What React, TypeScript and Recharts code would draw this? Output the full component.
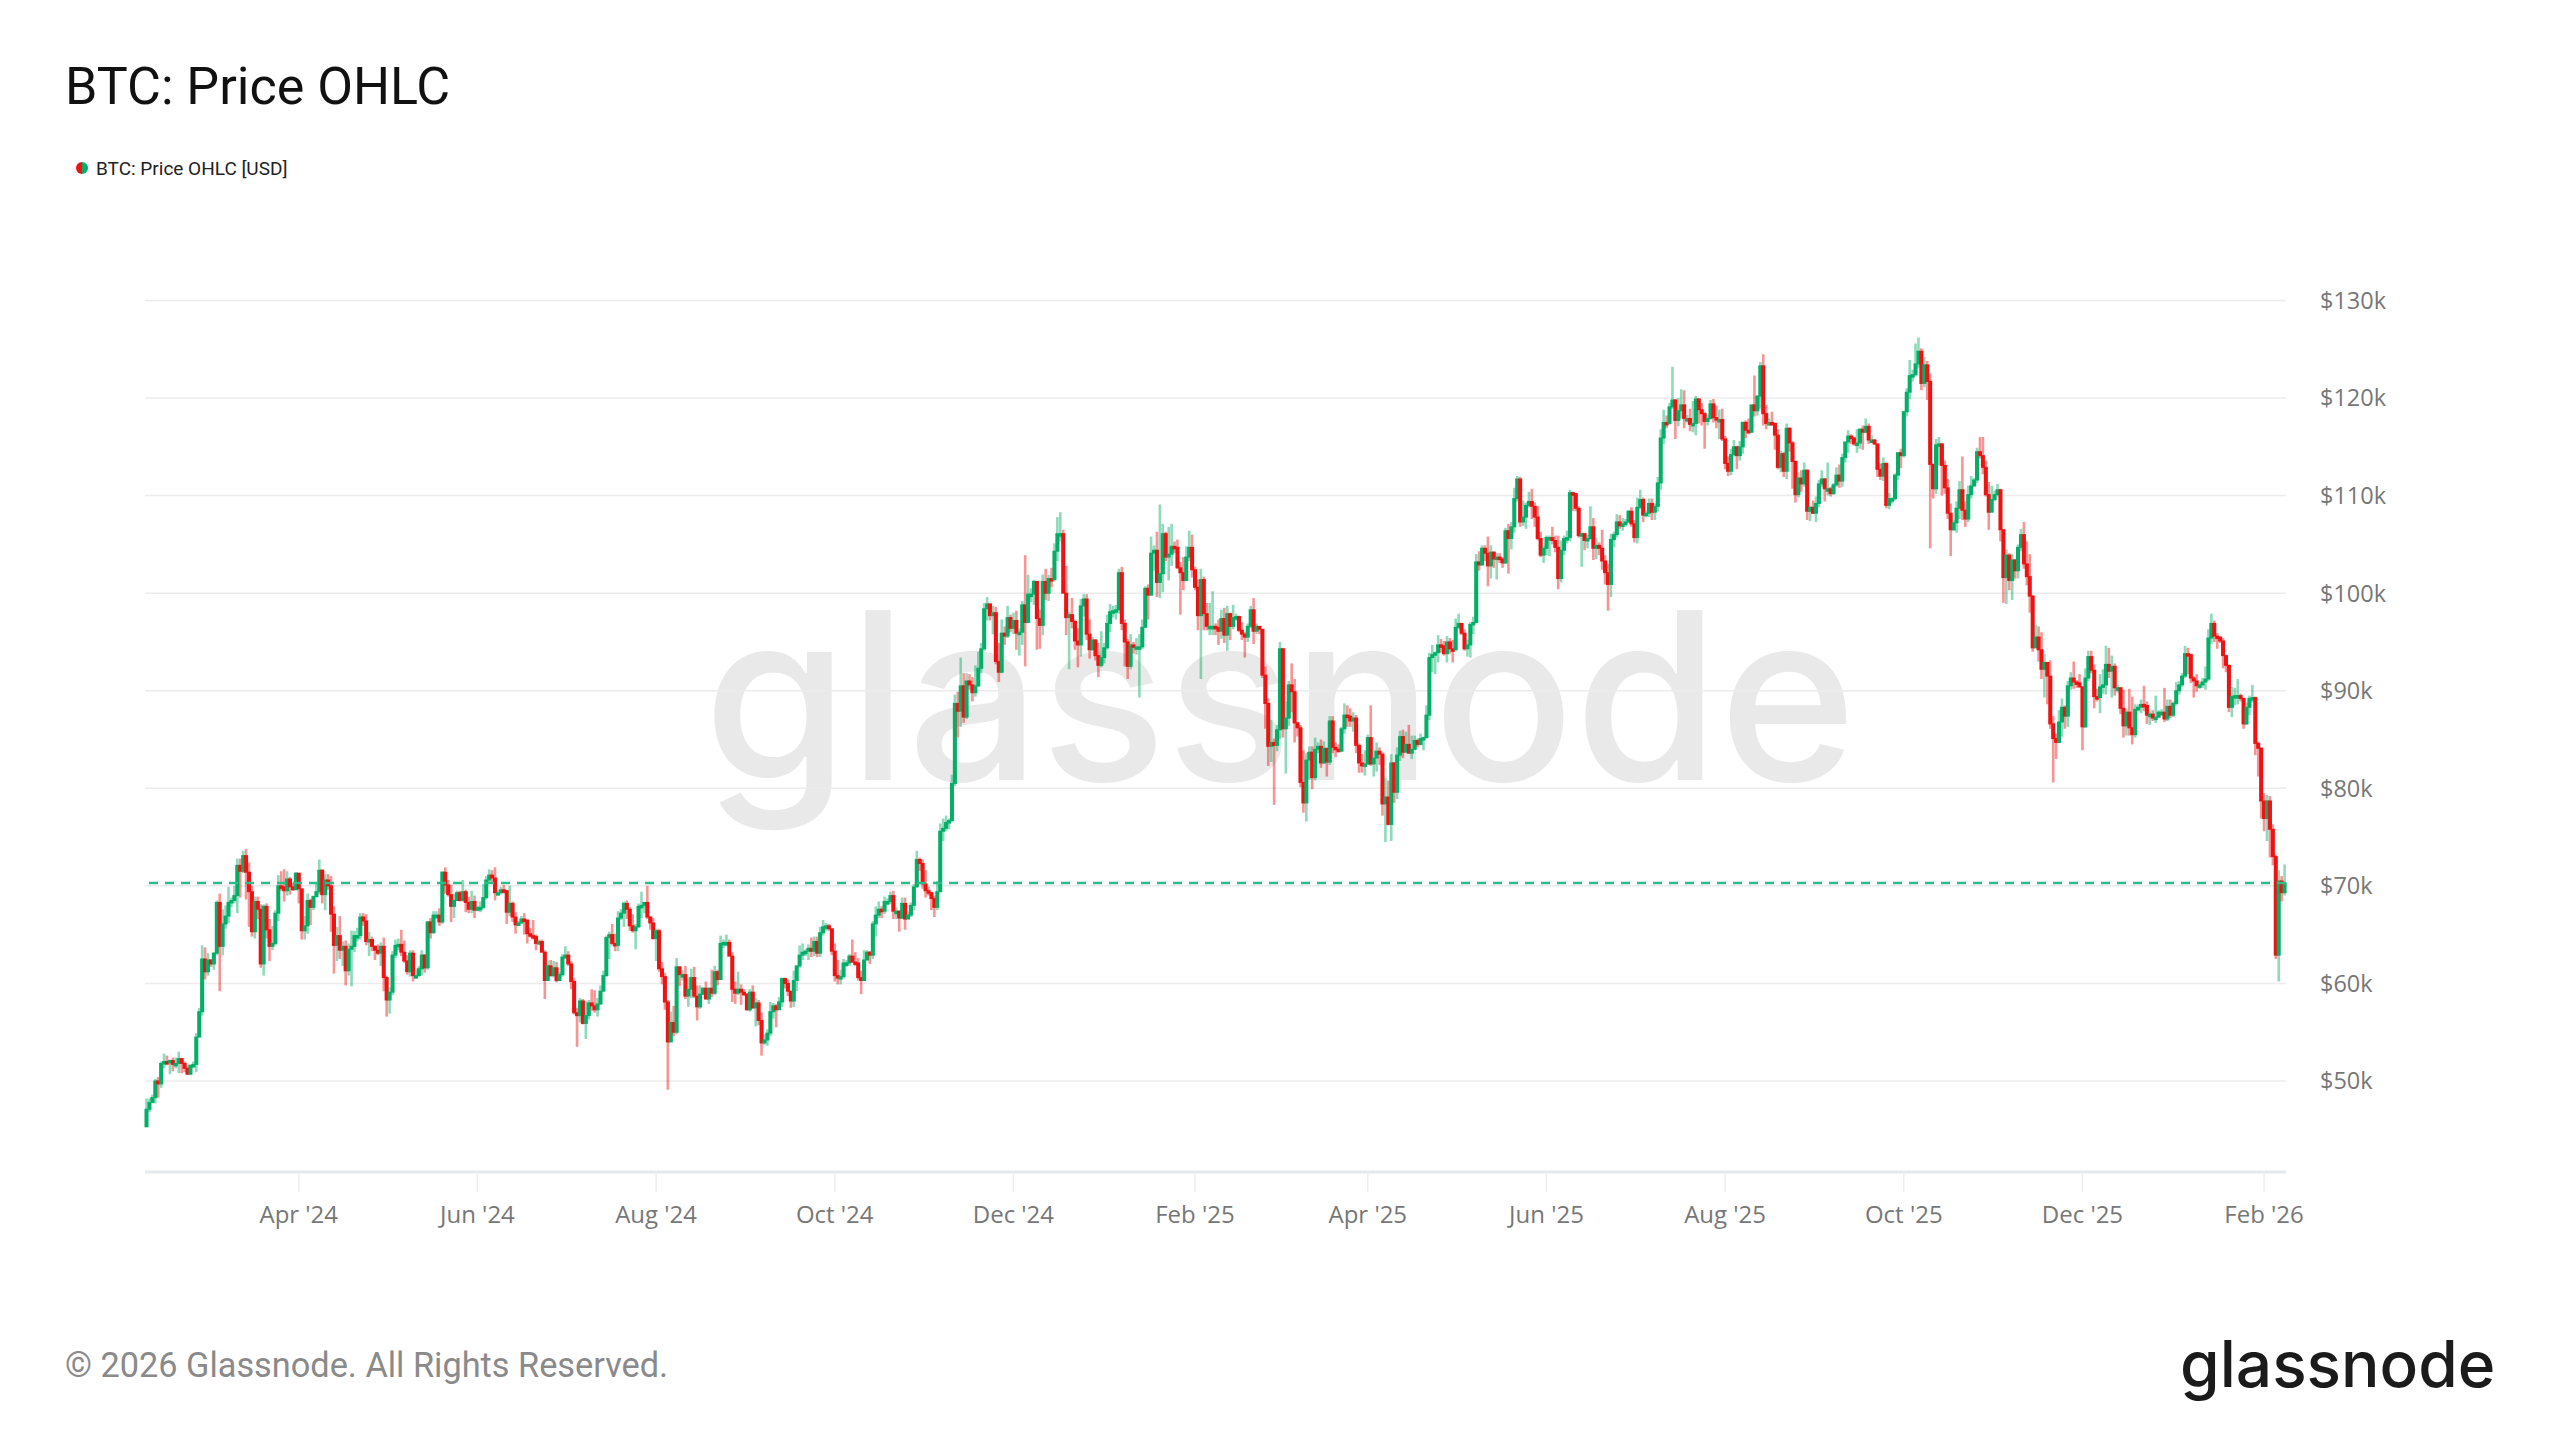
import React from "react";
import { ComposedChart, Bar, XAxis, YAxis, CartesianGrid, ReferenceLine } from "recharts";

// Daily BTC candles, values in thousands of USD. Each entry: [high, low, close].
// The open of each day is the previous day's close (24/7 market); FIRST_OPEN is the open of the first day.
const FIRST_OPEN = 45.3;
const START_DATE = [2024, 1, 9]; // 9 Feb 2024

const feb24 = [[48.2,45.3,47.1],[48.2,46.8,47.8],[48.6,47.7,48.3],[50.2,47.7,50.0],[50.4,48.3,49.7],[52.0,49.3,51.8],[52.8,51.3,52.0],[52.6,51.6,51.9],[52.2,50.7,52.1],[52.4,51.0,51.7],[52.4,51.3,51.8],[53.0,50.8,52.3],[52.3,50.8,51.8],[52.0,50.9,51.3],[51.6,50.6,50.7],[51.7,50.6,51.6],[52.0,51.3,51.7],[54.9,50.9,54.5],[57.5,54.5,57.1],[63.9,56.7,62.5],[63.7,60.4,61.2]];
const mar24 = [[63.1,60.8,62.4],[62.5,61.7,62.0],[63.2,61.4,63.1],[68.5,62.9,68.3],[69.2,59.2,63.8],[67.6,62.9,66.1],[68.0,65.6,66.9],[69.9,66.2,68.3],[68.8,67.8,68.5],[70.0,68.2,69.0],[72.8,67.2,72.1],[72.8,68.8,71.5],[73.6,71.3,73.1],[73.8,68.6,71.4],[72.4,65.8,69.4],[70.0,64.8,65.3],[68.9,64.6,68.4],[68.9,66.6,67.6],[68.1,61.6,62.0],[68.1,60.8,67.9],[68.2,64.6,65.5],[66.6,62.3,63.8],[65.9,63.4,64.1],[67.5,63.9,67.2],[71.1,66.4,70.0],[71.5,69.5,69.9],[71.7,68.4,69.5],[71.5,69.0,70.7],[70.9,69.1,69.9],[70.3,69.5,69.6],[71.4,69.6,71.3]];
const apr24 = [[71.3,68.2,69.7],[69.7,64.5,65.4],[66.9,64.5,65.9],[69.2,65.1,68.5],[68.7,66.0,67.8],[69.0,67.5,68.9],[70.3,68.8,69.4],[72.7,69.1,71.6],[71.7,68.2,69.1],[71.2,67.5,70.6],[71.2,69.6,70.0],[71.0,65.3,67.1],[67.9,61.0,63.9],[65.8,62.3,64.9],[66.9,62.5,63.4],[64.3,61.8,63.8],[64.4,59.8,61.3],[64.1,60.8,63.5],[65.4,59.7,63.8],[65.4,63.2,64.9],[65.7,64.3,64.9],[67.2,64.5,66.8],[67.2,65.9,66.4],[67.1,63.9,64.3],[65.3,62.8,64.5],[64.8,63.3,63.8],[63.9,62.4,63.4],[64.0,62.9,63.1],[64.2,61.8,63.8],[64.7,59.2,60.6]];
const may24 = [[60.8,56.6,58.3],[59.6,56.9,59.1],[63.3,58.8,62.9],[64.5,62.6,63.9],[64.6,63.4,64.0],[65.5,62.8,63.2],[64.4,62.1,62.3],[62.9,60.9,61.2],[63.4,60.7,63.1],[63.4,60.2,60.8],[61.4,60.5,60.8],[61.8,60.7,61.5],[63.4,60.8,62.9],[63.0,61.1,61.6],[66.4,61.4,66.3],[66.7,64.6,65.2],[67.4,65.1,67.0],[67.4,66.6,67.0],[67.7,65.9,66.3],[71.5,66.1,71.4],[71.9,69.2,70.1],[70.6,68.9,69.1],[70.1,66.3,67.9],[69.2,66.7,68.5],[69.5,68.5,69.3],[69.5,68.4,68.5],[70.6,68.4,69.4],[69.6,67.3,68.3],[68.9,67.2,67.6],[69.5,67.2,68.4],[69.0,66.7,67.5]];
const jun24 = [[67.9,67.4,67.8],[68.4,67.3,67.8],[70.2,67.6,68.8],[71.0,68.6,70.6],[71.7,70.2,71.1],[71.6,70.2,70.8],[71.9,68.5,69.3],[69.6,69.2,69.3],[69.9,69.1,69.6],[70.1,69.2,69.5],[69.6,66.1,67.3],[70.0,66.9,68.2],[68.4,66.3,66.8],[67.3,65.1,66.0],[66.4,65.9,66.2],[66.9,66.1,66.6],[67.2,65.0,66.5],[66.5,64.1,65.1],[65.7,64.7,64.9],[66.5,64.5,64.8],[65.0,63.4,64.1],[64.5,63.9,64.3],[64.5,63.2,63.2],[63.4,58.4,60.3],[62.3,60.3,61.8],[62.4,60.7,60.8],[62.3,60.6,61.6],[62.2,60.1,60.3],[61.2,60.3,60.9],[63.0,60.7,62.7]];
const jul24 = [[63.8,62.5,62.9],[63.3,61.8,62.0],[62.3,59.4,60.2],[60.5,56.8,57.0],[57.5,53.5,56.7],[58.5,56.0,58.2],[58.4,55.8,55.9],[58.2,54.3,56.7],[58.3,56.3,58.0],[59.4,57.2,57.7],[59.3,57.0,57.3],[58.5,56.6,57.9],[59.8,57.8,59.2],[61.3,59.4,60.8],[64.9,60.7,64.7],[65.3,62.5,65.0],[66.1,63.9,64.1],[65.1,63.3,63.9],[67.4,63.3,66.7],[67.6,66.5,67.2],[68.4,65.8,68.2],[68.5,66.6,67.6],[67.8,65.4,65.9],[67.1,65.2,65.4],[66.1,63.5,65.8],[68.2,65.7,67.9],[69.4,66.7,68.0],[68.3,67.2,68.3],[70.0,66.6,66.8],[66.9,65.5,66.2],[66.7,64.5,64.6]];
const aug24 = [[65.6,62.3,65.4],[65.6,61.2,61.5],[62.2,59.9,60.7],[61.1,57.3,58.1],[58.3,49.1,54.0],[57.1,54.0,56.0],[57.7,54.6,55.0],[62.6,54.8,61.7],[61.6,59.7,60.9],[61.4,60.3,60.9],[61.8,58.4,58.7],[60.6,57.6,59.4],[61.5,58.5,60.6],[61.7,58.5,58.7],[59.8,56.2,57.6],[59.8,57.4,58.9],[59.6,58.8,59.5],[60.2,58.4,58.4],[59.6,57.9,59.5],[61.4,58.6,59.0],[61.8,58.8,61.2],[61.4,59.8,60.4],[64.9,60.4,64.1],[64.5,63.6,64.2],[65.0,63.8,64.2],[64.5,62.8,62.8],[63.2,58.1,59.4],[60.2,57.9,59.0],[61.2,58.8,59.4],[59.9,57.8,59.1],[59.4,58.7,58.9]];
const sep24 = [[59.0,57.2,57.3],[59.4,57.1,59.1],[59.8,57.4,57.5],[58.5,55.6,58.0],[58.3,55.7,56.2],[57.0,52.6,53.9],[54.8,53.7,54.2],[55.3,53.6,54.9],[58.1,54.6,57.1],[58.0,56.4,57.7],[57.9,55.5,57.3],[58.6,57.3,58.1],[60.6,57.6,60.5],[60.6,59.5,60.0],[60.4,58.7,59.2],[59.2,57.5,58.2],[61.3,57.6,60.3],[61.8,59.2,61.8],[63.9,61.6,62.9],[64.1,62.4,63.2],[63.5,62.8,63.3],[64.0,62.4,63.6],[64.7,62.7,63.3],[64.8,62.8,64.3],[64.8,62.7,63.1],[65.8,62.7,65.2],[66.5,64.9,65.8],[66.2,65.4,65.9],[66.1,65.4,65.6],[65.6,62.9,63.3]];
const oct24 = [[64.1,60.2,60.8],[62.4,59.9,60.6],[61.4,59.9,60.7],[62.5,60.5,62.1],[62.4,61.7,62.1],[63.0,61.8,62.8],[64.5,62.1,62.2],[63.2,61.8,62.1],[62.6,60.3,60.6],[61.3,58.9,60.3],[63.4,60.4,62.4],[63.4,62.4,63.2],[63.3,62.0,62.9],[66.4,62.5,66.1],[67.9,64.8,67.0],[68.4,66.7,67.6],[67.9,66.7,67.4],[68.9,67.1,68.4],[68.7,68.0,68.4],[69.4,68.1,69.0],[69.5,66.6,67.4],[67.8,66.6,67.4],[67.5,65.3,66.7],[68.8,66.6,68.2],[68.8,65.5,66.6],[67.4,66.6,67.0],[68.3,66.8,68.0],[70.2,67.5,69.9],[73.6,69.8,72.7],[72.9,71.5,72.3],[72.7,69.7,70.2]];
const nov24 = [[71.6,68.8,69.5],[69.9,69.0,69.3],[69.4,67.5,68.7],[69.0,66.8,67.8],[70.5,67.5,69.4],[76.4,69.4,75.6],[76.9,74.6,75.9],[77.2,75.6,76.5],[76.9,75.8,76.7],[81.4,76.5,80.5],[89.6,80.2,88.7],[89.9,85.2,87.9],[93.4,86.3,90.5],[91.8,86.7,87.3],[91.8,87.1,91.0],[91.7,90.1,90.6],[91.4,88.9,89.8],[92.6,89.4,90.5],[94.0,90.4,92.3],[94.9,91.8,94.3],[99.0,94.1,98.4],[99.6,97.2,98.9],[98.9,97.2,97.7],[98.7,95.8,98.0],[98.6,92.7,93.0],[94.9,90.9,91.9],[97.3,91.8,95.9],[96.6,94.7,95.6],[98.7,95.4,97.5],[97.8,96.0,96.4]];
const dec24 = [[98.0,95.8,97.2],[98.2,94.2,95.9],[96.4,93.6,96.0],[99.2,94.7,98.8],[103.9,92.5,97.0],[101.9,97.0,99.9],[100.5,99.1,99.9],[101.4,98.8,101.2],[101.2,94.2,97.4],[98.3,94.3,96.7],[101.9,95.7,101.2],[102.5,99.3,100.0],[101.9,99.2,101.5],[102.6,100.6,101.4],[105.1,101.2,104.3],[107.8,103.3,106.1],[108.3,105.3,106.1],[106.5,100.0,100.0],[102.8,95.7,97.5],[98.1,92.2,97.8],[99.5,96.4,97.1],[97.3,94.2,95.1],[96.4,92.4,94.7],[99.4,93.5,98.7],[99.9,97.6,99.4],[99.9,95.2,95.8],[97.3,93.3,94.2],[95.5,94.1,95.2],[95.3,93.1,93.6],[94.9,91.4,92.6],[96.1,92.4,93.4]];
const jan25 = [[94.9,92.8,94.4],[97.8,94.2,96.9],[98.9,96.0,98.1],[98.7,97.5,98.2],[98.8,97.3,98.3],[102.5,97.9,102.1],[102.7,96.2,96.9],[97.3,92.5,95.0],[95.3,91.2,92.5],[95.8,92.2,94.7],[95.0,93.8,94.5],[95.4,93.7,94.5],[95.8,89.3,94.5],[97.3,94.3,96.5],[100.7,96.5,100.5],[100.9,97.3,99.8],[105.8,99.9,104.1],[104.9,102.3,104.4],[106.3,99.6,101.1],[109.1,99.5,102.0],[107.1,100.1,106.1],[106.3,103.3,103.7],[106.8,101.3,104.0],[107.1,102.8,104.8],[105.3,104.1,104.7],[105.5,102.5,102.6],[103.2,97.8,102.1],[103.7,100.3,101.3],[104.8,101.3,103.7],[106.4,103.3,104.7],[106.0,101.6,102.4]];
const feb25 = [[102.7,100.3,100.6],[101.4,96.2,97.7],[102.5,91.2,101.4],[101.7,96.2,97.9],[99.0,96.2,96.6],[99.0,95.7,96.6],[100.2,95.7,96.6],[96.9,95.7,96.5],[97.3,94.7,96.1],[98.3,95.3,97.4],[98.5,94.9,95.7],[98.7,94.1,97.9],[98.0,95.2,96.6],[98.8,96.3,97.5],[97.9,97.2,97.6],[97.7,96.0,96.2],[97.0,95.2,95.8],[96.0,93.4,95.5],[96.9,95.0,96.6],[98.7,96.4,98.3],[99.5,94.8,96.1],[96.9,95.8,96.6],[96.6,95.8,96.3],[96.3,91.3,91.6],[92.5,86.1,88.7],[89.2,82.3,84.3],[87.0,82.7,84.7],[85.1,78.3,84.4]];
const mar25 = [[86.5,83.8,86.0],[95.0,85.1,94.3],[94.4,85.2,86.1],[88.9,81.5,87.2],[91.0,86.4,90.6],[92.8,87.8,89.9],[91.2,84.7,86.7],[86.8,85.3,86.2],[86.5,80.1,80.6],[83.9,77.5,78.5],[83.6,76.6,82.9],[84.3,80.9,83.7],[84.3,79.9,81.1],[85.2,80.8,84.0],[84.7,83.6,84.3],[85.0,82.1,82.6],[84.8,82.5,84.1],[84.1,81.2,82.7],[87.4,82.4,86.9],[87.4,83.6,84.2],[84.7,83.2,84.0],[84.5,83.7,83.8],[86.3,83.8,86.1],[88.7,85.6,87.5],[88.5,86.3,87.4],[88.2,86.3,86.9],[87.8,85.8,87.2],[87.5,83.6,84.4],[84.6,81.6,82.6],[83.5,81.6,82.3],[83.9,81.3,82.5]];
const apr25 = [[85.5,82.4,85.2],[88.5,82.3,82.5],[83.9,81.2,83.1],[84.7,81.7,83.8],[84.2,82.4,83.5],[83.7,77.2,78.4],[81.1,74.5,79.1],[80.8,76.2,76.3],[83.5,74.6,82.6],[82.7,78.5,79.6],[84.2,78.9,83.4],[85.9,82.8,85.3],[86.0,83.1,83.7],[85.8,83.7,84.5],[86.5,83.6,83.6],[85.4,83.0,84.0],[85.4,83.9,84.9],[85.1,84.2,84.5],[85.6,84.4,85.1],[85.3,83.9,85.2],[88.5,85.1,87.5],[93.9,87.0,93.4],[94.7,91.9,93.7],[94.0,91.7,93.9],[95.7,92.9,94.7],[95.3,93.9,94.6],[95.1,93.6,93.8],[95.6,92.9,95.0],[95.4,93.8,94.3],[95.2,92.9,94.2]];
const may25 = [[97.4,94.1,96.5],[97.9,96.3,96.9],[96.9,95.7,95.9],[96.3,94.1,94.3],[95.2,93.5,94.7],[97.0,93.4,96.8],[97.6,95.8,97.0],[104.0,96.9,103.2],[104.3,102.3,102.9],[104.9,102.8,104.6],[104.9,103.3,104.1],[105.8,100.7,102.8],[104.9,101.5,104.2],[104.3,102.6,103.5],[104.1,101.4,103.7],[104.1,103.1,103.5],[103.7,102.6,103.1],[106.7,103.0,106.4],[107.1,102.0,105.6],[107.3,104.5,106.8],[110.8,106.2,109.7],[112.0,109.4,111.7],[111.9,106.8,107.3],[109.5,106.9,107.8],[109.3,106.6,109.0],[110.4,108.8,109.4],[110.7,107.6,108.9],[109.3,106.8,107.8],[108.9,105.4,105.6],[106.3,103.7,103.9],[104.9,103.1,104.6]];
const jun25 = [[105.9,103.9,105.7],[105.9,103.8,105.7],[106.8,105.0,105.4],[105.9,104.2,104.7],[105.9,100.4,101.5],[105.4,101.1,104.4],[105.9,103.9,105.6],[106.4,105.1,105.7],[110.6,105.3,110.3],[110.4,108.4,110.2],[110.3,108.4,108.7],[108.9,105.7,105.9],[106.2,102.7,106.1],[106.2,104.4,105.4],[106.0,104.6,105.6],[108.9,105.5,106.8],[107.7,103.4,104.6],[105.6,103.5,104.9],[105.2,103.9,104.6],[106.5,102.4,103.3],[103.9,100.9,102.1],[103.0,98.2,100.9],[106.1,99.6,105.5],[106.3,104.7,106.0],[108.1,105.7,107.3],[108.0,106.6,106.9],[107.7,106.4,107.1],[107.6,106.8,107.3],[108.5,107.2,108.4],[108.8,106.8,107.1]];
const jul25 = [[107.5,105.2,105.7],[109.8,105.1,108.8],[110.6,108.6,109.6],[109.8,107.3,108.0],[108.5,107.8,108.2],[109.7,107.8,109.2],[109.7,107.5,108.3],[109.2,107.5,108.9],[111.9,108.4,111.3],[116.8,110.6,115.9],[118.8,115.3,117.5],[118.2,116.9,117.4],[119.5,117.3,119.1],[123.2,118.9,119.8],[119.9,115.8,117.7],[120.0,117.1,118.7],[120.9,117.9,119.3],[120.8,116.9,117.9],[118.3,117.5,117.9],[118.9,116.6,117.3],[119.7,116.5,117.4],[120.2,116.2,119.9],[120.0,117.4,118.8],[119.5,117.2,118.4],[118.6,114.8,117.6],[118.3,117.2,117.9],[119.8,117.8,119.4],[119.9,117.5,118.0],[119.2,116.9,117.8],[118.8,115.8,117.8],[118.9,115.6,115.8]];
const aug25 = [[116.1,112.7,113.3],[114.0,112.0,112.5],[114.8,112.1,114.2],[115.7,114.0,115.0],[115.1,112.7,114.1],[115.6,113.6,115.0],[117.6,114.3,117.5],[117.7,115.9,116.7],[117.9,116.3,116.5],[119.3,116.5,119.3],[122.3,118.1,118.7],[120.3,118.2,120.2],[123.7,118.9,123.3],[124.5,117.2,118.4],[119.3,116.8,117.4],[117.9,117.2,117.5],[118.6,117.2,117.4],[117.5,114.7,116.2],[116.8,112.7,112.9],[114.6,112.4,114.3],[114.5,111.9,112.5],[117.4,111.7,116.9],[117.0,114.5,115.4],[115.6,110.7,113.5],[113.6,109.3,110.1],[112.4,109.8,111.8],[112.6,110.4,111.2],[113.4,110.9,112.6],[112.7,107.5,108.4],[108.9,107.4,108.8],[109.5,108.1,108.2]];
const sep25 = [[109.9,107.3,109.2],[111.6,108.8,111.2],[112.6,110.9,111.7],[111.8,109.4,110.7],[113.4,110.0,110.7],[110.9,109.9,110.2],[111.3,110.1,111.1],[112.9,110.9,112.1],[113.2,110.8,111.5],[114.3,110.9,113.9],[115.5,113.4,115.5],[116.7,114.4,116.1],[116.3,115.3,115.9],[116.0,115.1,115.3],[116.8,114.4,115.4],[116.9,114.8,116.8],[117.2,114.7,116.5],[117.9,116.4,117.1],[117.4,115.3,115.7],[116.2,115.5,115.7],[115.8,115.2,115.3],[115.3,111.9,112.7],[113.3,111.6,112.0],[113.9,111.5,113.3],[113.4,108.7,109.0],[110.3,108.6,109.7],[109.8,109.2,109.7],[112.3,109.5,112.1],[114.4,111.6,114.4],[114.8,112.8,114.1]];
const oct25 = [[118.7,113.9,118.6],[121.0,118.1,120.6],[123.9,119.9,122.3],[122.9,121.7,122.4],[125.6,122.2,123.5],[126.2,123.1,124.8],[125.1,120.8,121.5],[124.2,121.1,123.4],[123.8,119.8,121.7],[122.5,104.6,113.2],[113.3,109.7,110.7],[115.8,110.2,115.2],[116.0,113.1,115.3],[115.4,110.0,113.1],[113.6,110.2,110.8],[111.7,107.6,108.2],[109.2,103.8,106.5],[107.5,106.4,107.2],[109.4,106.2,108.7],[111.5,107.6,110.6],[114.0,107.5,108.5],[109.4,106.8,107.6],[111.0,107.3,110.1],[112.0,109.7,111.0],[111.8,110.9,111.6],[114.9,111.3,114.5],[116.0,113.8,114.1],[116.0,112.2,112.9],[113.6,109.9,110.1],[111.4,106.5,108.3],[111.0,108.4,109.6]];
const nov25 = [[110.5,109.4,110.1],[111.2,109.9,110.6],[110.7,105.3,106.5],[106.6,99.0,101.6],[104.5,98.9,103.9],[104.1,100.3,101.3],[104.0,99.3,103.4],[103.5,101.5,102.3],[105.0,101.5,104.7],[106.6,104.3,106.0],[107.3,102.5,103.0],[105.3,100.8,101.7],[104.0,98.0,99.7],[99.8,94.0,94.4],[96.8,94.6,95.5],[96.6,93.0,94.2],[96.0,91.2,92.2],[93.8,89.3,92.9],[92.9,88.6,91.5],[93.1,86.1,86.6],[87.4,80.6,85.1],[85.6,83.0,84.7],[88.0,84.7,86.8],[89.2,85.3,88.3],[88.5,86.1,87.4],[91.0,86.3,90.5],[91.9,90.1,91.3],[93.0,90.2,90.9],[91.1,90.3,90.8],[91.7,90.3,90.4]];
const dec25 = [[90.4,83.9,86.3],[92.3,86.2,91.3],[94.1,91.0,93.5],[94.1,91.8,92.1],[92.7,88.2,89.4],[90.2,88.9,89.3],[91.7,87.7,90.4],[92.2,89.7,90.6],[94.6,89.6,92.7],[94.4,91.3,92.0],[93.6,89.3,92.5],[92.8,89.5,90.3],[90.6,89.8,90.3],[90.4,87.6,88.2],[90.1,85.2,86.4],[88.2,85.4,87.8],[90.2,85.4,86.2],[89.4,84.5,85.5],[88.6,85.2,88.1],[88.6,87.9,88.3],[89.1,87.7,88.6],[90.5,87.9,88.5],[88.9,86.6,87.5],[87.9,86.5,87.6],[88.0,86.9,87.2],[89.5,86.7,87.3],[88.0,87.2,87.8],[88.1,87.4,87.8],[90.3,86.8,87.1],[89.1,86.9,88.4],[89.1,87.2,87.5]];
const jan26 = [[88.9,87.3,88.7],[90.9,88.5,90.0],[91.0,89.6,90.6],[91.8,90.4,91.5],[94.6,91.3,93.8],[94.4,91.7,93.7],[93.8,90.8,91.3],[91.5,89.3,91.0],[91.7,89.9,90.5],[90.9,90.2,90.6],[91.3,90.3,90.9],[92.5,90.1,91.2],[96.3,91.0,95.4],[97.9,94.8,96.9],[97.2,95.0,95.6],[95.9,94.3,95.5],[95.6,94.9,95.1],[95.4,92.3,93.6],[93.6,91.9,92.6],[92.7,87.8,88.3],[90.4,87.3,89.4],[90.3,88.5,89.5],[91.2,88.6,89.5],[89.7,88.9,89.2],[89.3,86.1,86.6],[88.8,86.5,88.3],[89.5,87.5,89.2],[90.6,88.8,89.3],[89.4,83.4,84.6],[84.8,81.2,84.1],[84.2,76.9,78.7]];
const feb26 = [[79.5,75.6,76.9],[79.3,74.6,78.7],[79.2,72.9,75.8],[76.3,72.1,73.0],[73.2,62.5,62.9],[71.6,60.2,70.5],[71.0,68.4,69.3],[72.2,69.0,70.3]];

const MONTHS = [feb24, mar24, apr24, may24, jun24, jul24, aug24, sep24, oct24, nov24, dec24,
  jan25, feb25, mar25, apr25, may25, jun25, jul25, aug25, sep25, oct25, nov25, dec25, jan26, feb26];

const TICK_DATES = ["2024-04-01","2024-06-01","2024-08-01","2024-10-01","2024-12-01","2025-02-01",
  "2025-04-01","2025-06-01","2025-08-01","2025-10-01","2025-12-01","2026-02-01"];
const TICK_LABELS = ["Apr '24","Jun '24","Aug '24","Oct '24","Dec '24","Feb '25",
  "Apr '25","Jun '25","Aug '25","Oct '25","Dec '25","Feb '26"];
const Y_TICKS = [50, 60, 70, 80, 90, 100, 110, 120, 130];
const Y_DOMAIN = [40.67, 130];

const GREEN = "#04ae68";
const RED = "#ee1212";

const pad = (n: number) => (n < 10 ? "0" + n : "" + n);

const data = (() => {
  const rows = MONTHS.flat();
  let prev = FIRST_OPEN;
  return rows.map((r, i) => {
    const [h, l, c] = r;
    const o = prev;
    prev = c;
    const d = new Date(Date.UTC(START_DATE[0], START_DATE[1], START_DATE[2] + i));
    const date = `${d.getUTCFullYear()}-${pad(d.getUTCMonth() + 1)}-${pad(d.getUTCDate())}`;
    const hi = Math.max(h, o, c);
    const lo = Math.min(l, o, c);
    return { date, o, h: hi, l: lo, c, range: [lo, hi] };
  });
})();

const LAST_CLOSE = data[data.length - 1].c;

const Candle = (props: any) => {
  const { x, y, width, height, payload } = props;
  if (!payload || x == null || y == null) return <g />;
  const { o, h, l, c } = payload;
  const top = Math.min(y, y + height);
  const hh = Math.abs(height);
  const ratio = h === l ? 0 : hh / (h - l);
  const cx = x + width / 2;
  const up = c >= o;
  const color = up ? GREEN : RED;
  const bodyTop = top + (h - Math.max(o, c)) * ratio;
  const bodyH = Math.max(Math.abs(o - c) * ratio, 2.5);
  const bw = Math.max(width * 1.35, 3);
  return (
    <g>
      <line x1={cx} x2={cx} y1={top} y2={top + hh} stroke={color} strokeOpacity={0.45} strokeWidth={2.6} />
      <rect x={cx - bw / 2} y={bodyTop - 0.5} width={bw} height={bodyH + 1} fill={color} />
    </g>
  );
};

const tickLabel = (v: string) => {
  const i = TICK_DATES.indexOf(v);
  return i >= 0 ? TICK_LABELS[i] : "";
};

export default function App() {
  return (
    <div style={{ position: "absolute", left: 0, top: 0, width: 2560, height: 1440, background: "#ffffff", overflow: "hidden" }}>
      <svg width={2560} height={1440} style={{ position: "absolute", left: 0, top: 0 }}>
        <text x={1280} y={780} textAnchor="middle" fontFamily="Inter" fontWeight={500} fontSize={234} fill="#e9e9e9">glassnode</text>
        <text x={65} y={104} fontFamily="Roboto" fontSize={52} fill="#111111">BTC: Price OHLC</text>
        <path d="M82,162 A6,6 0 0 0 82,174 Z" fill={RED} />
        <path d="M82,162 A6,6 0 0 1 82,174 Z" fill={GREEN} />
        <text x={96} y={175} fontFamily="Roboto" fontSize={19} fill="#222222">BTC: Price OHLC [USD]</text>
        <text x={65} y={1377} fontFamily="Roboto" fontSize={34.3} fill="#8a8a8a">© 2026 Glassnode. All Rights Reserved.</text>
        <text x={2180} y={1387} fontFamily="Inter" fontWeight={500} fontSize={64} fill="#1b1b1b">glassnode</text>
      </svg>
      <div style={{ position: "absolute", left: 0, top: 0 }}>
        <ComposedChart width={2560} height={1440} data={data}
          margin={{ top: 300.5, left: 145, right: 154, bottom: 208 }} barCategoryGap={0} barGap={0}>
          <CartesianGrid horizontal={true} vertical={false} stroke="#ececec" strokeWidth={1.5} />
          <XAxis dataKey="date" type="category" ticks={TICK_DATES} interval={0} height={60}
            tickFormatter={tickLabel}
            axisLine={{ stroke: "#e5e8ec", strokeWidth: 3 }}
            tickLine={{ stroke: "#eceef2", strokeWidth: 1.5 }} tickSize={20} tickMargin={14}
            tick={{ fill: "#777777", fontSize: 24, fontFamily: "Open Sans" }} />
          <YAxis orientation="right" width={120} domain={Y_DOMAIN} ticks={Y_TICKS} type="number"
            allowDataOverflow={true}
            tickFormatter={(v: number) => `$${v}k`} axisLine={false} tickLine={false}
            tickSize={0} tickMargin={34}
            tick={{ fill: "#777777", fontSize: 23.5, fontFamily: "Open Sans" }} />
          <ReferenceLine y={LAST_CLOSE} stroke="#2bbd85" strokeWidth={2.5} strokeDasharray="9 7" ifOverflow="extendDomain" />
          <Bar dataKey="range" shape={<Candle />} isAnimationActive={false} />
        </ComposedChart>
      </div>
    </div>
  );
}
